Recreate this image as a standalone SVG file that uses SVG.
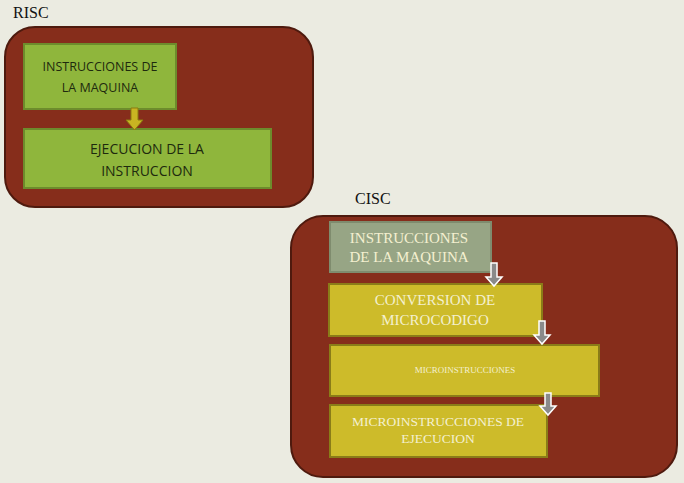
<svg xmlns="http://www.w3.org/2000/svg" width="684" height="483" viewBox="0 0 684 483">
<style>
.cont{fill:#862d1b;stroke:#4e1a0e;stroke-width:2}
.g{fill:#8fb63c;stroke:#6d8c2c;stroke-width:2}
.y{fill:#cdbb2a;stroke:#8a7c18;stroke-width:2}
.gr{fill:#97a585;stroke:#7f8c6e;stroke-width:2}
.sans{font-family:"Open Sans","Liberation Sans",sans-serif;fill:#1e2a0e}
.serif{font-family:"Liberation Serif",serif;fill:#f4f0d0}
.t{font-family:"Liberation Serif",serif;fill:#111;font-size:16px}
.wa{fill:#8a8a8a;stroke:#fff;stroke-width:1.5}
</style>
<rect width="684" height="483" fill="#ebebe1"/>
<text class="t" x="13" y="18">RISC</text>
<text class="t" x="355" y="204">CISC</text>
<g id="risc">
<rect class="cont" x="5" y="27" width="308" height="180" rx="30"/>
</g>
<g id="risc1"><rect class="g" x="24" y="44" width="152" height="65"/>
<text class="sans" font-size="12.5" text-anchor="middle"><tspan x="100" y="71">INSTRUCCIONES DE</tspan><tspan x="100" y="92">LA MAQUINA</tspan></text></g>
<g id="risc2"><rect class="g" x="24" y="129" width="247" height="59"/>
<text class="sans" font-size="14" text-anchor="middle"><tspan x="147" y="154">EJECUCION DE LA</tspan><tspan x="147" y="176">INSTRUCCION</tspan></text></g>
<g id="cisc">
<rect class="cont" x="291" y="216" width="386" height="261" rx="32"/>
</g>
<g id="c1"><rect class="gr" x="330" y="222" width="161" height="50"/>
<text class="serif" font-size="15" text-anchor="middle"><tspan x="409" y="243">INSTRUCCIONES</tspan><tspan x="409" y="262">DE LA MAQUINA</tspan></text></g>
<g id="c2"><rect class="y" x="329" y="284" width="213" height="52"/>
<text class="serif" font-size="15" text-anchor="middle"><tspan x="435" y="305">CONVERSION DE</tspan><tspan x="435" y="325">MICROCODIGO</tspan></text></g>
<g id="c3"><rect class="y" x="330" y="345" width="269" height="51"/>
<text class="serif" font-size="9" text-anchor="middle" x="465" y="373">MICROINSTRUCCIONES</text></g>
<g id="c4"><rect class="y" x="330" y="405" width="217" height="52"/>
<text class="serif" font-size="13.5" text-anchor="middle"><tspan x="438" y="426">MICROINSTRUCCIONES DE</tspan><tspan x="438" y="443">EJECUCION</tspan></text></g>
<g id="connectors">
<path d="M131 108h7v12h5l-8.5 10l-8.5-10h5z" fill="#c9b422" stroke="#8a7a10" stroke-width="1"/>
<path class="wa" d="M491 263h6v14h5l-8 9l-8-9h5z"/>
<path class="wa" d="M539 321h6v14h5l-8 9l-8-9h5z"/>
<path class="wa" d="M545 393h6v13h5l-8 9l-8-9h5z"/>
</g>
</svg>
